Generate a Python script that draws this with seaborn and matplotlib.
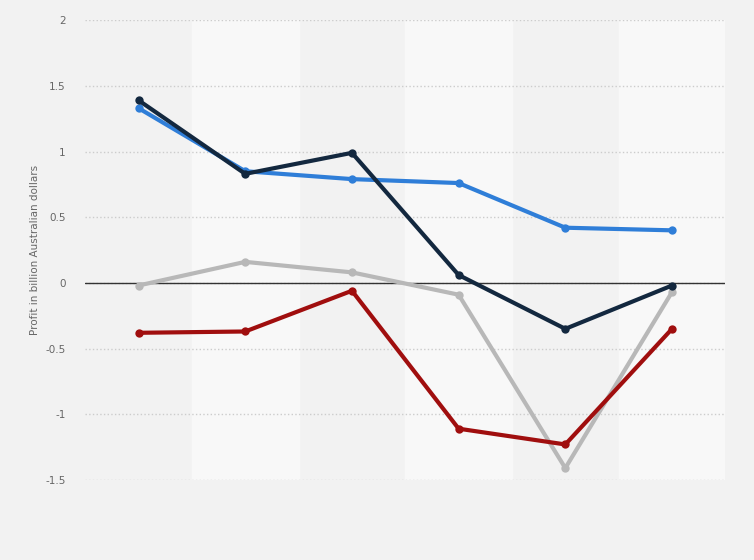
import pandas as pd
import matplotlib.pyplot as plt
import seaborn as sns

# No category labels are visible on the reference; use positions
periods = [0, 1, 2, 3, 4, 5]
series_a = [1.33, 0.85, 0.79, 0.76, 0.42, 0.40]
series_b = [1.39, 0.83, 0.99, 0.06, -0.35, -0.02]
series_c = [-0.02, 0.16, 0.08, -0.09, -1.41, -0.07]
series_d = [-0.38, -0.37, -0.06, -1.11, -1.23, -0.35]

colors = {'a': '#2f7ed8', 'b': '#13283f', 'c': '#b8b8b8', 'd': '#a00e0e'}

df = pd.DataFrame({'period': periods * 4,
                   'value': series_a + series_b + series_c + series_d,
                   'series': ['a'] * 6 + ['b'] * 6 + ['c'] * 6 + ['d'] * 6})

sns.set_theme(style="white")
plt.rcParams['font.family'] = ['DejaVu Sans']

fig = plt.figure(figsize=(7.54, 5.6), dpi=100, facecolor='#f2f2f2')
ax = fig.add_axes([0.113, 0.143, 0.849, 0.821])
ax.set_facecolor('#f2f2f2')

for i in periods:
    if i % 2 == 1:
        ax.axvspan(i - 0.5, i + 0.5, color='#f8f8f8', zorder=0)

for s in ['c', 'd', 'a', 'b']:
    sub = df[df['series'] == s]
    sns.lineplot(data=sub, x='period', y='value', color=colors[s], marker='o',
                 markersize=6, markeredgewidth=0, linewidth=3, ax=ax, zorder=3)

ax.axhline(0, color='#333333', linewidth=1, zorder=2)
ax.set_xlim(-0.5, 5.5)
ax.set_ylim(-1.5, 2)
ax.set_yticks([-1.5, -1, -0.5, 0, 0.5, 1, 1.5, 2])
ax.set_yticklabels(['-1.5', '-1', '-0.5', '0', '0.5', '1', '1.5', '2'])
ax.yaxis.grid(True, color='#cccccc', linestyle=':', linewidth=1)
ax.set_axisbelow(True)
ax.set_xticks([])
ax.tick_params(axis='y', labelsize=7.5, colors='#666666', length=0, pad=14)
ax.set_xlabel('')
ax.set_ylabel('Profit in billion Australian dollars', fontsize=7.5, color='#666666')
for sp in ax.spines.values():
    sp.set_visible(False)

fig.savefig('out.png', dpi=100, facecolor='#f2f2f2')
